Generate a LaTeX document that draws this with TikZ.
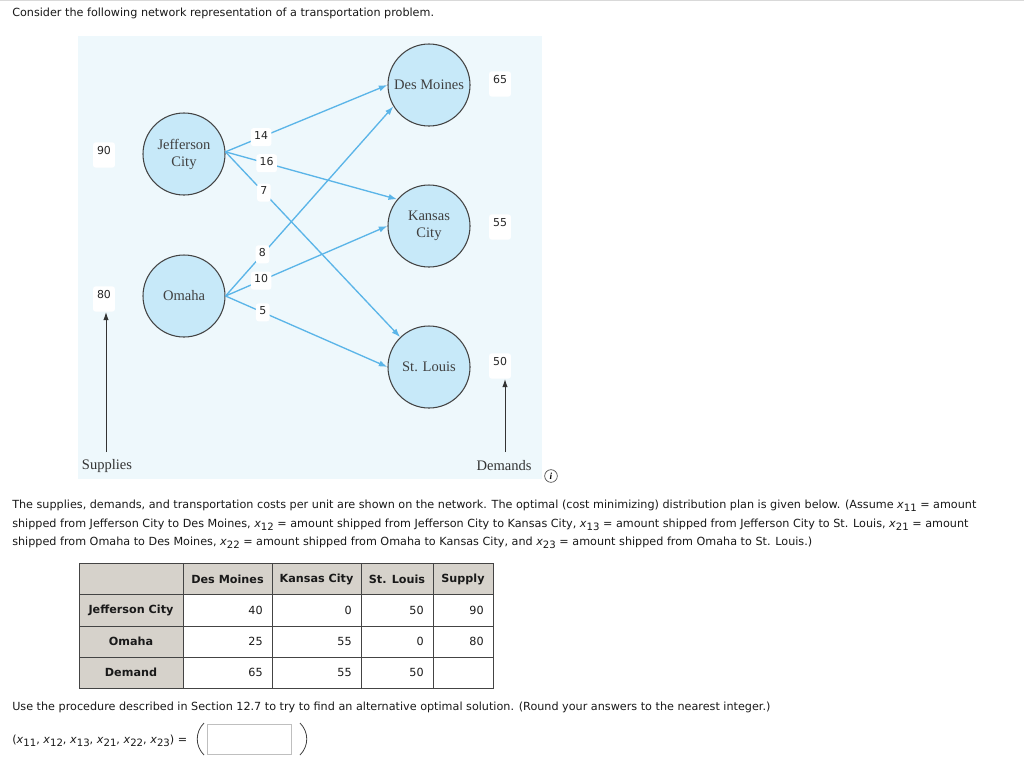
\documentclass[tikz,border=0pt]{standalone}
\usepackage{fontspec}
\setmainfont{DejaVu Sans}
\newfontfamily\seriffont{Liberation Serif}
\usetikzlibrary{arrows.meta}
\definecolor{bgblue}{HTML}{EEF8FC}
\definecolor{nodeblue}{HTML}{C7E9F9}
\definecolor{arrowblue}{HTML}{5BB5E8}
\definecolor{tabgray}{HTML}{D6D2CB}
\definecolor{edgegray}{HTML}{444444}
\newcommand{\xsub}[1]{\textit{x}\raisebox{-0.55ex}{\fontsize{7.6}{8}\selectfont #1}}
\tikzset{
  txt/.style={anchor=base west, inner sep=0pt, font=\fontsize{8.4}{10}\selectfont, text=black!90},
  city/.style={circle, draw=edgegray, line width=0.8pt, fill=nodeblue, minimum size=61.5pt, inner sep=0pt, align=center, text=black!75, font=\seriffont\fontsize{10.9}{12.7}\selectfont},
  route/.style={draw=arrowblue, line width=1pt, -{Latex[length=6.5pt,width=4.6pt]}},
  cost/.style={fill=white, rounded corners=2pt, inner xsep=2.5pt, inner ysep=0pt, text height=8.5pt, text depth=5pt, font=\fontsize{8.2}{9}\selectfont, text=black!85},
  sd/.style={fill=white, rounded corners=2pt, inner xsep=3pt, inner ysep=0pt, text height=9pt, text depth=10pt, minimum width=16pt, font=\fontsize{8.2}{9}\selectfont, text=black!85},
  caption/.style={inner sep=0pt, text=black!80, font=\seriffont\fontsize{10.9}{12}\selectfont},
  uparrow/.style={draw=black!80, line width=0.75pt, -{Latex[length=6pt,width=4pt]}},
  hd/.style={inner sep=0pt, font=\bfseries\fontsize{8.4}{9}\selectfont, text=black!90},
  num/.style={inner sep=0pt, anchor=east, font=\fontsize{8.4}{9}\selectfont, text=black!90},
  grid/.style={draw=edgegray, line width=0.6pt}
}
\begin{document}
\begin{tikzpicture}[x=0.75pt,y=-0.75pt]
\useasboundingbox (0,0) rectangle (1024,769);
\fill[white] (0,0) rectangle (1024,769);
\draw[black!15, line width=0.75pt] (0,0.5) -- (1024,0.5);

\node[txt] (intro) at (12,16) {Consider the following network representation of a transportation problem.};

% network panel
\fill[bgblue] (78,36) rectangle (542,479);

\node[city] (jc) at (184,154) {Jefferson\\City};
\node[city] (om) at (184,296) {Omaha};
\node[city] (dm) at (429,85) {Des Moines};
\node[city] (kc) at (429,226) {Kansas\\City};
\node[city] (sl) at (429,367) {St. Louis};

\draw[route] (jc.3) -- (dm.west) node[cost, pos=0.22] {14};
\draw[route] (jc.3) -- (kc.140) node[cost, pos=0.24] {16};
\draw[route] (jc.3) -- (sl.134) node[cost, pos=0.22] {7};
\draw[route] (om.east) -- (dm.211) node[cost, pos=0.22] {8};
\draw[route] (om.east) -- (kc.west) node[cost, pos=0.22] {10};
\draw[route] (om.east) -- (sl.west) node[cost, pos=0.23] {5};

\node[sd] (s90) at (104,155) {90};
\node[sd] (s80) at (104,299) {80};
\node[sd] (d65) at (500,84) {65};
\node[sd] (d55) at (500,227) {55};
\node[sd] (d50) at (500,366) {50};

\node[caption] (sup) at (107,466) {Supplies};
\node[caption] (dem) at (504,466) {Demands};
\coordinate (supTop) at (106,312);
\coordinate (demTop) at (505,379);
\coordinate (supBot) at (106,452);
\coordinate (demBot) at (505,452);
\draw[uparrow] (supBot) -- (supTop);
\draw[uparrow] (demBot) -- (demTop);

\node[circle, draw=black!70, line width=0.5pt, minimum size=9.5pt, inner sep=0pt, font=\seriffont\itshape\bfseries\fontsize{7}{7}\selectfont] (info) at (551,476) {i};

% paragraph
\node[txt] (p1) at (12,508) {The supplies, demands, and transportation costs per unit are shown on the network. The optimal (cost minimizing) distribution plan is given below. (Assume \xsub{11} = amount};
\node[txt] (p2) at (12,527) {shipped from Jefferson City to Des Moines, \xsub{12} = amount shipped from Jefferson City to Kansas City, \xsub{13} = amount shipped from Jefferson City to St. Louis, \xsub{21} = amount};
\node[txt] (p3) at (12,545) {shipped from Omaha to Des Moines, \xsub{22} = amount shipped from Omaha to Kansas City, and \xsub{23} = amount shipped from Omaha to St. Louis.)};

% table
\fill[tabgray] (79,563) rectangle (493,594);
\fill[tabgray] (79,594) rectangle (183,688);
\draw[grid] (79,563) rectangle (493,688);
\foreach \y in {594,626,657} \draw[grid] (79,\y) -- (493,\y);
\foreach \x in {183,272,361,433} \draw[grid] (\x,563) -- (\x,688);

\node[hd] (hdm) at (227.5,579) {Des Moines};
\node[hd] (hkc) at (316.5,579) {Kansas City};
\node[hd] (hsl) at (397,579) {St. Louis};
\node[hd] (hsu) at (463,579) {Supply};
\node[hd] (rjc) at (131,610) {Jefferson City};
\node[hd] (rom) at (131,641) {Omaha};
\node[hd] (rde) at (131,672) {Demand};

\node[num] at (263,610) {40};
\node[num] at (352,610) {0};
\node[num] at (424,610) {50};
\node[num] at (484,610) {90};
\node[num] at (263,641) {25};
\node[num] at (352,641) {55};
\node[num] at (424,641) {0};
\node[num] at (484,641) {80};
\node[num] at (263,672) {65};
\node[num] at (352,672) {55};
\node[num] at (424,672) {50};

% question
\node[txt] (q1) at (12,710) {Use the procedure described in Section 12.7 to try to find an alternative optimal solution. (Round your answers to the nearest integer.)};
\node[txt] (q2) at (12,743) {(\xsub{11}, \xsub{12}, \xsub{13}, \xsub{21}, \xsub{22}, \xsub{23}) =};
\node[draw=black!25, line width=0.75pt, minimum width=63pt, minimum height=22.5pt, inner sep=0pt] (ans) at (249.5,739) {};
\draw[black!75, line width=0.6pt] (204,723) .. controls (195,732) and (195,746) .. (204,755);
\draw[black!75, line width=0.6pt] (300,723) .. controls (309,732) and (309,746) .. (300,755);
\end{tikzpicture}
\end{document}
